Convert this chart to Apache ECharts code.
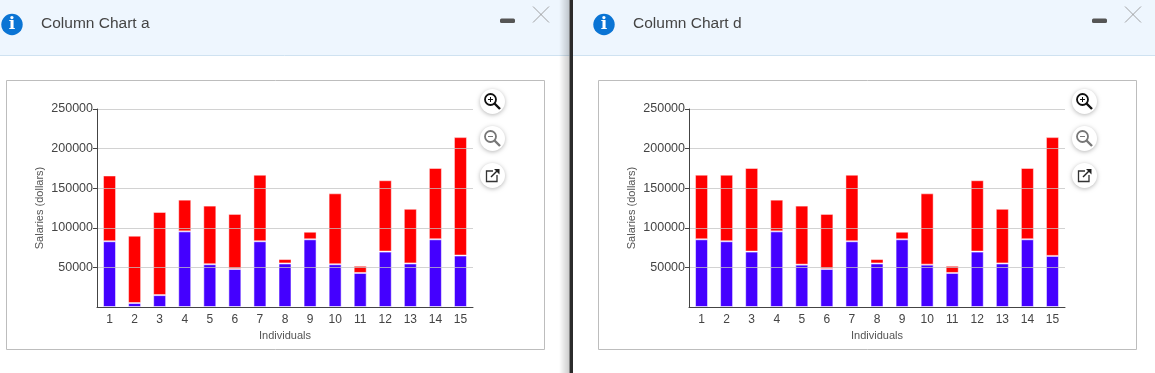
<!DOCTYPE html>
<html lang="en" style="height: 100%">
<head>
  <meta charset="utf-8">
</head>
<body style="height: 100%; margin: 0; background: #fff">
  <div id="container" style="width: 1155px; height: 373px"></div>

  <script type="text/javascript" src="https://cdn.jsdelivr.net/npm/echarts@6/dist/echarts.min.js"></script>
  <script type="text/javascript">
    var individuals = ['1', '2', '3', '4', '5', '6', '7', '8', '9', '10', '11', '12', '13', '14', '15'];
    var yTicks = [0, 50000, 100000, 150000, 200000, 250000];

    // Column Chart a
    var blueA = [83000, 5000, 15000, 95500, 54000, 48000, 83000, 55000, 85500, 54000, 43000, 70000, 55000, 85500, 65000];
    var redA = [83000, 85000, 105000, 40000, 74000, 69500, 84000, 5500, 9500, 89500, 9000, 90000, 69000, 90000, 149500];

    // Column Chart d
    var blueD = [85500, 83000, 70000, 95500, 53500, 48000, 83000, 55000, 85500, 53500, 43000, 70000, 55000, 85500, 64500];
    var redD = [81500, 84000, 105500, 40000, 74500, 69500, 84000, 5500, 9500, 90000, 9000, 90000, 69000, 90000, 150000];

    var titles = ['Column Chart a', 'Column Chart d'];
    var panelOffset = 592;
    var font = '"Liberation Sans", Arial, sans-serif';

    var dom = document.getElementById('container');
    var myChart = echarts.init(dom, null, { renderer: 'canvas' });

    function roundButton(cx, cy) {
      return {
        type: 'circle',
        z: 20,
        shape: { cx: cx, cy: cy, r: 12.5 },
        style: { fill: '#fff', shadowBlur: 4, shadowColor: 'rgba(0,0,0,0.28)', shadowOffsetY: 1 }
      };
    }

    function magnifier(cx, cy, color, plus) {
      var items = [
        { type: 'circle', z: 21, shape: { cx: cx - 2, cy: cy - 2, r: 5.5 }, style: { fill: 'none', stroke: color, lineWidth: 1.8 } },
        { type: 'line', z: 21, shape: { x1: cx + 2, y1: cy + 2, x2: cx + 7.5, y2: cy + 7.5 }, style: { stroke: color, lineWidth: 2.4 } },
        { type: 'line', z: 21, shape: { x1: cx - 4.5, y1: cy - 2, x2: cx + 0.5, y2: cy - 2 }, style: { stroke: color, lineWidth: 1 } }
      ];
      if (plus) {
        items.push({ type: 'line', z: 21, shape: { x1: cx - 2, y1: cy - 4.5, x2: cx - 2, y2: cy + 0.5 }, style: { stroke: color, lineWidth: 1 } });
      }
      return items;
    }

    function chrome(dx, title, headerRight) {
      var headerLeft = dx ? dx - 19 : 0;
      var items = [
        { type: 'rect', z: 0, shape: { x: headerLeft, y: 0, width: headerRight - headerLeft, height: 55 }, style: { fill: '#eef6fe' } },
        { type: 'line', z: 0, shape: { x1: headerLeft, y1: 55.5, x2: headerRight, y2: 55.5 }, style: { stroke: '#cfe2f1', lineWidth: 1 } },
        { type: 'circle', z: 1, shape: { cx: 12 + dx, cy: 24.5, r: 10.7 }, style: { fill: '#0a74d4' } },
        { type: 'text', z: 2, style: { x: 12 + dx, y: 25, text: 'i', fill: '#fff', font: 'bold 17px "DejaVu Serif", serif', align: 'center', verticalAlign: 'middle' } },
        { type: 'text', z: 2, style: { x: 41 + dx, y: 24, text: title, fill: '#444', font: '15.5px ' + font, verticalAlign: 'middle' } },
        { type: 'rect', z: 2, shape: { x: 500 + dx, y: 18.5, width: 15, height: 4.5, r: 1.5 }, style: { fill: '#555' } },
        { type: 'line', z: 2, shape: { x1: 533 + dx, y1: 6.5, x2: 549 + dx, y2: 22.5 }, style: { stroke: '#8a8a8a', lineWidth: 0.8 } },
        { type: 'line', z: 2, shape: { x1: 549 + dx, y1: 6.5, x2: 533 + dx, y2: 22.5 }, style: { stroke: '#8a8a8a', lineWidth: 0.8 } },
        { type: 'rect', z: 0, shape: { x: 6.5 + dx, y: 80.5, width: 538, height: 269 }, style: { fill: '#fff', stroke: '#bdbdbd', lineWidth: 1 } },
        roundButton(492.5 + dx, 101.5),
        roundButton(492.5 + dx, 138.5),
        roundButton(492.5 + dx, 175.5),
        { type: 'polyline', z: 21, shape: { points: [[493 + dx, 171], [486.5 + dx, 171], [486.5 + dx, 181.5], [497 + dx, 181.5], [497 + dx, 175]] }, style: { fill: 'none', stroke: '#333', lineWidth: 1.3 } },
        { type: 'line', z: 21, shape: { x1: 491 + dx, y1: 177, x2: 498 + dx, y2: 170 }, style: { stroke: '#222', lineWidth: 1.5 } },
        { type: 'polygon', z: 21, shape: { points: [[494 + dx, 169], [499.5 + dx, 169], [499.5 + dx, 174.5]] }, style: { fill: '#222' } }
      ];
      return items
        .concat(magnifier(492.5 + dx, 101.5, '#111', true))
        .concat(magnifier(492.5 + dx, 138.5, '#777', false));
    }

    var divider = [
      {
        type: 'rect', z: 3,
        shape: { x: 559, y: 0, width: 10.5, height: 373 },
        style: {
          fill: new echarts.graphic.LinearGradient(0, 0, 1, 0, [
            { offset: 0, color: 'rgba(0,0,0,0)' },
            { offset: 1, color: 'rgba(0,0,0,0.2)' }
          ])
        }
      },
      { type: 'rect', z: 4, shape: { x: 569.5, y: 0, width: 3.5, height: 373 }, style: { fill: '#2b2b2b' } }
    ];

    function grid(dx) {
      return { left: 97 + dx, width: 376, top: 109, height: 198, containLabel: false };
    }

    function xAxis(i) {
      return {
        type: 'category',
        gridIndex: i,
        data: individuals,
        z: 3,
        name: 'Individuals',
        nameLocation: 'middle',
        nameGap: 19,
        nameTextStyle: { color: '#555', fontSize: 11, fontFamily: font },
        axisLine: { lineStyle: { color: '#444', width: 1 } },
        axisTick: { alignWithLabel: true, length: 5, lineStyle: { color: '#888' } },
        axisLabel: { color: '#444', fontSize: 12, fontFamily: font, margin: 7, interval: 0 }
      };
    }

    function yAxis(i) {
      return {
        type: 'value',
        gridIndex: i,
        min: yTicks[0],
        max: yTicks[yTicks.length - 1],
        interval: yTicks[1],
        z: 3,
        name: 'Salaries (dollars)',
        nameLocation: 'middle',
        nameGap: 52,
        nameTextStyle: { color: '#555', fontSize: 11, fontFamily: font },
        axisLine: { show: true, lineStyle: { color: '#444', width: 1 } },
        axisTick: { show: true, length: 4, lineStyle: { color: '#444' } },
        axisLabel: {
          color: '#444',
          fontSize: 12.5,
          fontFamily: font,
          margin: 4,
          showMinLabel: false,
          formatter: function (value) {
            return String(value);
          }
        },
        splitLine: { lineStyle: { color: 'rgba(195,195,195,0.75)', width: 1 } }
      };
    }

    function bars(name, data, i, color, border) {
      return {
        name: name,
        type: 'bar',
        stack: 'chart' + i,
        xAxisIndex: i,
        yAxisIndex: i,
        data: data,
        barWidth: 13,
        itemStyle: { color: color, borderColor: border, borderWidth: 1 },
        emphasis: { disabled: true }
      };
    }

    var option = {
      animation: false,
      grid: [grid(0), grid(panelOffset)],
      xAxis: [xAxis(0), xAxis(1)],
      yAxis: [yAxis(0), yAxis(1)],
      series: [
        bars('blue', blueA, 0, '#4400ff', 'rgba(255,255,255,0.55)'),
        bars('red', redA, 0, '#ff0000', 'rgba(255,255,255,0.45)'),
        bars('blue', blueD, 1, '#4400ff', 'rgba(255,255,255,0.55)'),
        bars('red', redD, 1, '#ff0000', 'rgba(255,255,255,0.45)')
      ],
      graphic: {
        elements: chrome(0, titles[0], 569.5)
          .concat(chrome(panelOffset, titles[1], 1155))
          .concat(divider)
          .map(function (el) {
            el.silent = true;
            return el;
          })
      }
    };

    myChart.setOption(option);
    window.addEventListener('resize', myChart.resize);
  </script>
</body>
</html>
